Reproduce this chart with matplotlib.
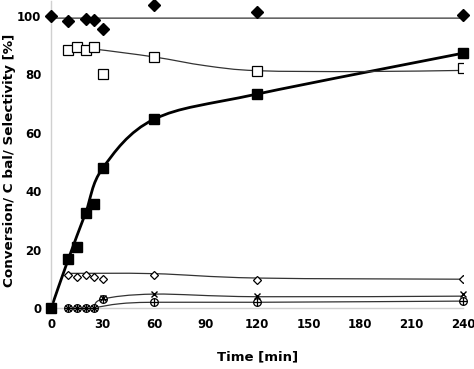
import matplotlib.pyplot as plt
from matplotlib.path import Path
from matplotlib.patches import PathPatch

# measured points
t_conv = [0, 10, 15, 20, 25, 30, 60, 120, 240]
conversion = [0, 16.8, 20.9, 32.5, 35.6, 47.9, 64.7, 73.3, 87.3]

t_cbal = [0, 10, 20, 25, 30, 60, 120, 240]
c_bal = [100, 98.3, 99.0, 98.7, 95.5, 103.8, 101.4, 100.5]

t_sel = [10, 15, 20, 25, 30, 60, 120, 240]
sel_main = [88.4, 89.4, 88.4, 89.3, 80.1, 86.0, 81.2, 82.2]
sel_b = [11.5, 10.6, 11.4, 10.7, 9.9, 11.5, 9.6, 9.8]

t_minor = [10, 15, 20, 25, 30, 60, 120, 240]
sel_c = [0, 0, 0, 0, 3.5, 4.8, 4.1, 4.9]
sel_d = [0, 0, 0, 0, 3.1, 2.1, 2.1, 2.4]

# trend lines
conv_fit_t = [0, 10, 20, 30, 60, 120, 240]
conv_fit = [0, 16.8, 32.5, 47.9, 64.7, 73.3, 87.3]
cbal_fit_t = [0, 240]
cbal_fit = [99.3, 99.3]
main_fit_t = [10, 25, 60, 90, 120, 180, 240]
main_fit = [89.3, 88.7, 86.0, 83.0, 81.3, 81.0, 81.4]
b_fit_t = [10, 60, 120, 240]
b_fit = [11.9, 11.8, 10.3, 9.9]
c_fit_t = [25, 30, 60, 120, 240]
c_fit = [0, 3.1, 4.8, 3.9, 4.1]
d_fit_t = [25, 40, 60, 120, 240]
d_fit = [0.1, 1.5, 2.0, 2.0, 2.4]


def smooth_line(ax, xs, ys, lw, color):
    # catmull-rom style bezier, like the excel smoothed line
    n = len(xs)
    verts = [(xs[0], ys[0])]
    codes = [Path.MOVETO]
    for i in range(n - 1):
        x0, y0 = (xs[i - 1], ys[i - 1]) if i > 0 else (xs[i], ys[i])
        x1, y1 = xs[i], ys[i]
        x2, y2 = xs[i + 1], ys[i + 1]
        x3, y3 = (xs[i + 2], ys[i + 2]) if i + 2 < n else (x2, y2)
        c1 = (x1 + (x2 - x0) / 6, y1 + (y2 - y0) / 6)
        c2 = (x2 - (x3 - x1) / 6, y2 - (y3 - y1) / 6)
        verts += [c1, c2, (x2, y2)]
        codes += [Path.CURVE4] * 3
    ax.add_patch(PathPatch(Path(verts, codes), fill=False, lw=lw,
                           edgecolor=color, capstyle='round', zorder=2))


plt.rcParams['font.family'] = ['DejaVu Sans']
fig = plt.figure(figsize=(4.74, 3.69), dpi=100)
ax = fig.add_axes([0.108, 0.165, 0.869, 0.831])

smooth_line(ax, conv_fit_t, conv_fit, 2.0, 'black')
smooth_line(ax, cbal_fit_t, cbal_fit, 0.9, '#333333')
smooth_line(ax, main_fit_t, main_fit, 0.9, '#333333')
smooth_line(ax, b_fit_t, b_fit, 0.9, '#333333')
smooth_line(ax, c_fit_t, c_fit, 0.9, '#333333')
smooth_line(ax, d_fit_t, d_fit, 0.9, '#333333')

# circle with a plus inside
ax.plot(t_minor, sel_d, ls='none', marker='o', ms=5.5, mfc='white', mec='black', mew=0.9, zorder=3, clip_on=False)
ax.plot(t_minor, sel_d, ls='none', marker='+', ms=5.5, mew=0.9, color='black', zorder=3, clip_on=False)
ax.plot(t_minor, sel_c, ls='none', marker='x', ms=5, mew=1.0, color='black', zorder=3, clip_on=False)
ax.plot(t_sel, sel_b, ls='none', marker='D', ms=4.5, mfc='white', mec='black', mew=0.9, zorder=3)
ax.plot(t_sel, sel_main, ls='none', marker='s', ms=7, mfc='white', mec='black', mew=0.9, zorder=3)
ax.plot(t_cbal, c_bal, ls='none', marker='D', ms=6, color='black', zorder=3, clip_on=False)
ax.plot(t_conv, conversion, ls='none', marker='s', ms=6.5, color='black', zorder=4, clip_on=False)

ax.set_xlim(0, 240)
ax.set_ylim(0, 105)
ax.set_xticks(range(0, 241, 30))
ax.set_yticks(range(0, 101, 20))
ax.tick_params(length=0, labelsize=8.5, pad=7)
for lab in ax.get_xticklabels() + ax.get_yticklabels():
    lab.set_fontweight('bold')
for s in ['top', 'right']:
    ax.spines[s].set_visible(False)
for s in ['left', 'bottom']:
    ax.spines[s].set_color('#d0d0d0')
    ax.spines[s].set_linewidth(1.0)

ax.set_xlabel('Time [min]', fontsize=9.5, fontweight='bold', labelpad=14)
ax.set_ylabel('Conversion/ C bal/ Selectivity [%]', fontsize=9.7, fontweight='bold')
ax.yaxis.set_label_coords(-0.085, 0.483)

fig.savefig('out.png', dpi=100)
